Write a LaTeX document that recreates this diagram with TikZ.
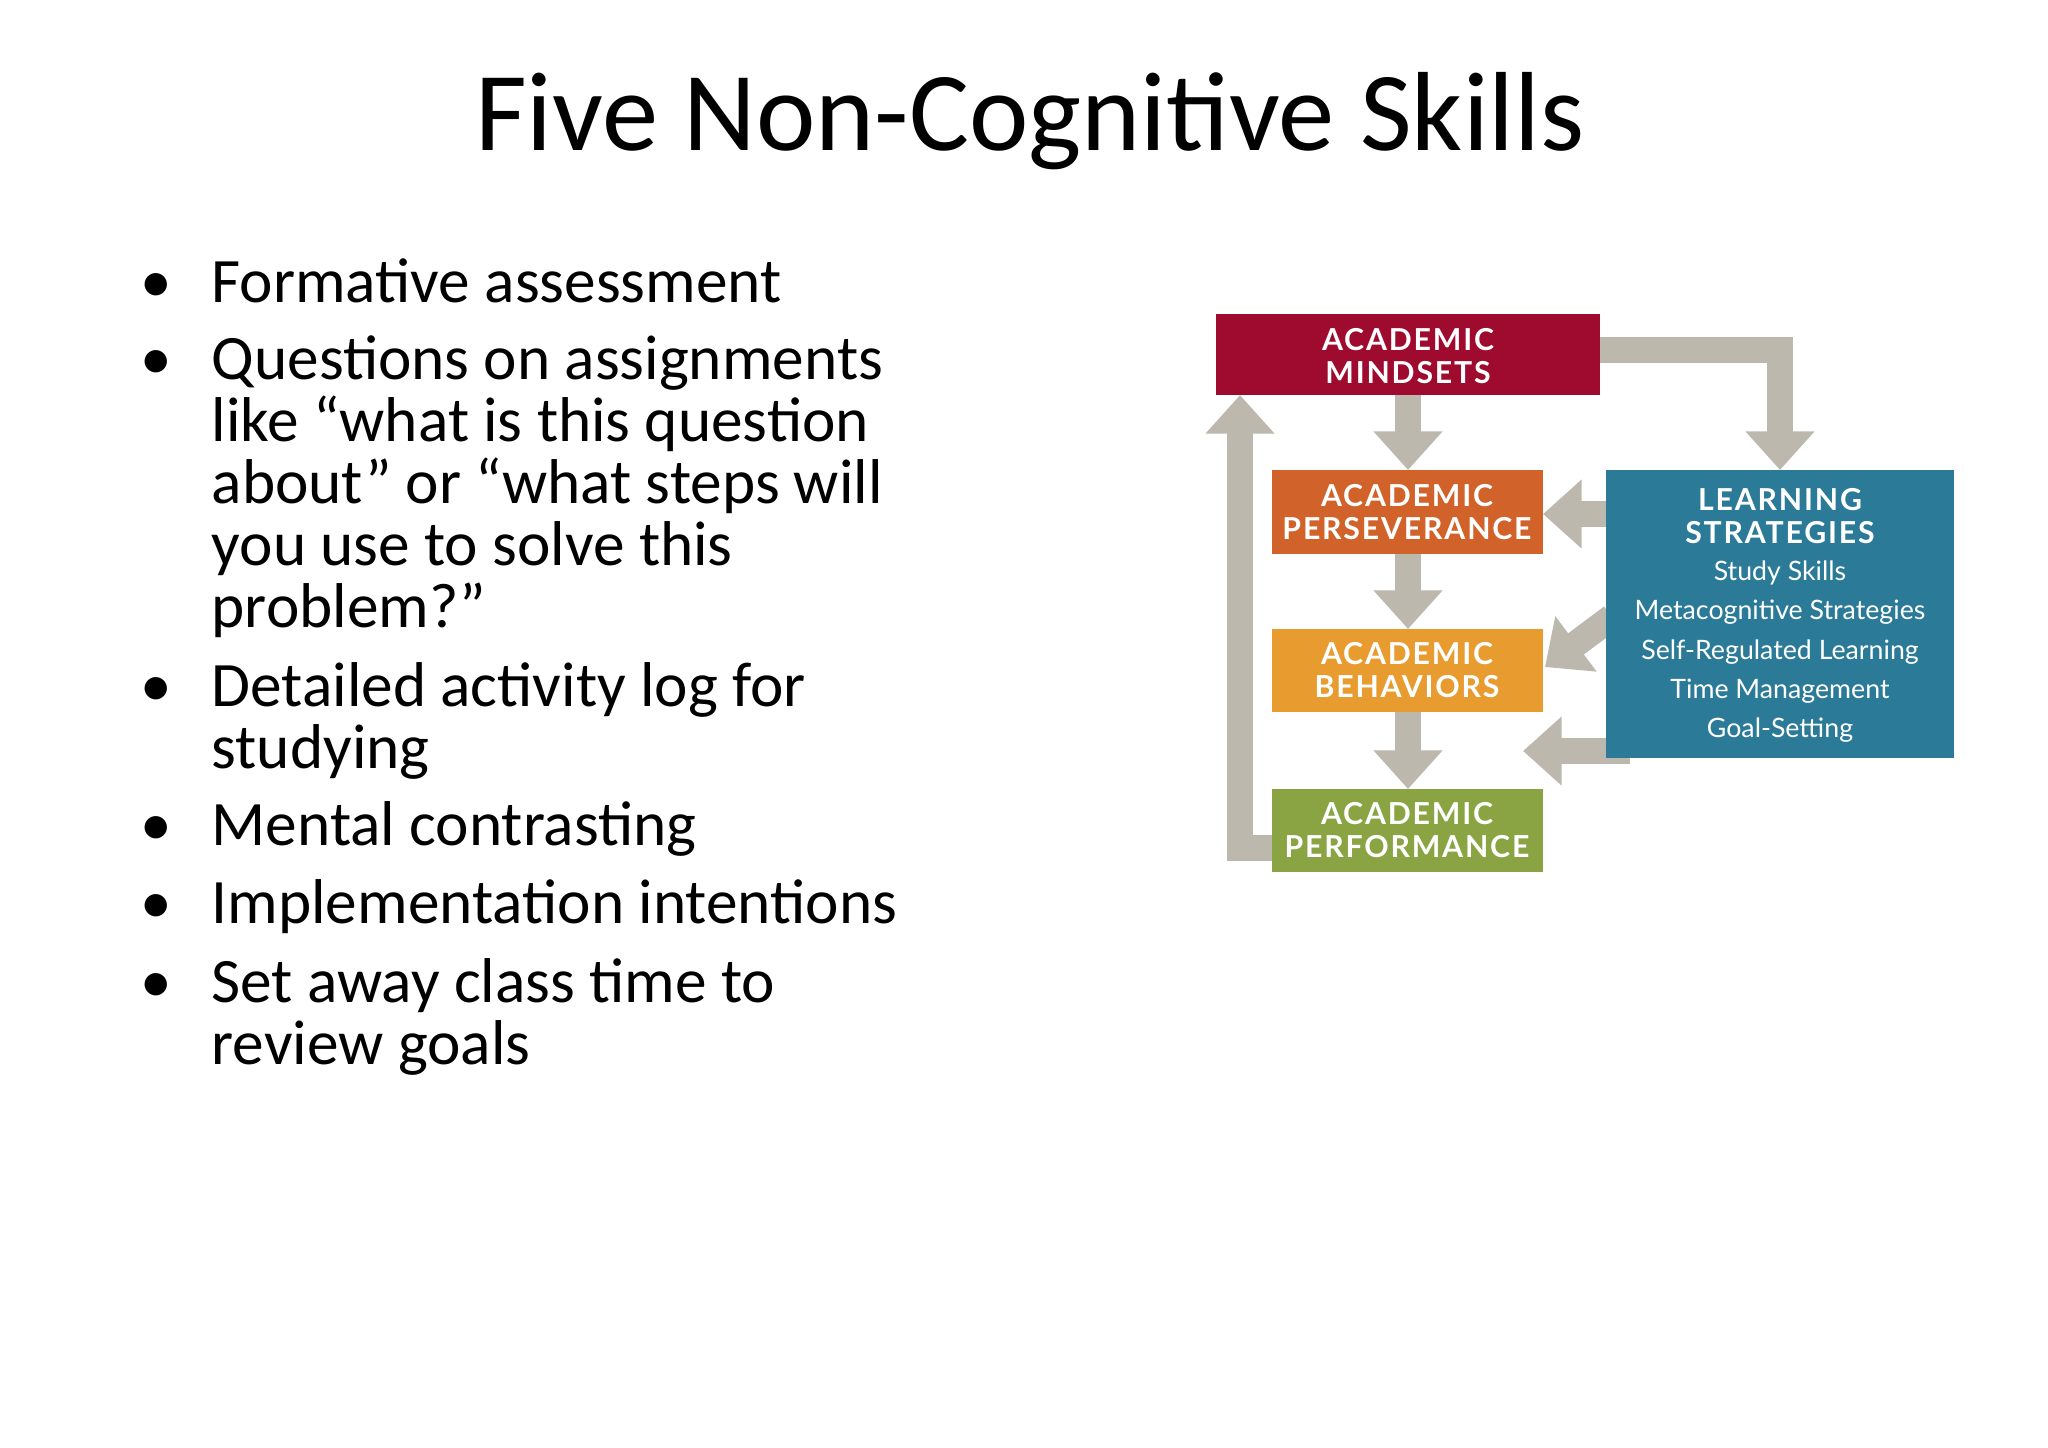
\documentclass[tikz,border=0pt]{standalone}
\usepackage{fontspec}
\setmainfont{Carlito}
\newfontfamily\boxfont[LetterSpace=6]{Lato}
\newfontfamily\itemfont{Lato}
\usetikzlibrary{arrows.meta}
\definecolor{cmind}{HTML}{9E0B2E}
\definecolor{cpers}{HTML}{D0622A}
\definecolor{cbeh}{HTML}{E89B2E}
\definecolor{cperf}{HTML}{8BA443}
\definecolor{clearn}{HTML}{2B7A98}
\definecolor{cgrey}{HTML}{BDB8AE}
\begin{document}
\begin{tikzpicture}[x=0.01cm,y=-0.01cm,
  boxst/.style={text=white,font=\boxfont\bfseries\fontsize{8.6}{9.4}\selectfont,align=center,inner sep=0pt},
  bul/.style={anchor=base west,inner sep=0pt,font=\fontsize{18}{18}\selectfont},
  garrow/.style={cgrey,line width=7.5pt,-{Triangle[width=19pt,length=11pt]}}]
\useasboundingbox (0,0) rectangle (2048,1447);
\node[font=\fontsize{32}{36}\selectfont] (title) at (1030,121) {Five Non-Cognitive Skills};
% bullets
\foreach \y/\n in {302/1,379/2,706/3,845/4,923/5,1002/6}{
  \node[bul] (d\n) at (140,\y) {•};
}
\node[bul] (l1) at (211,302) {Formative assessment};
\node[bul] (l2) at (211,379) {Questions on assignments};
\node[bul] (l3) at (211,441) {like “what is this question};
\node[bul] (l4) at (211,503) {about” or “what steps will};
\node[bul] (l5) at (211,565) {you use to solve this};
\node[bul] (l6) at (211,627) {problem?”};
\node[bul] (l7) at (211,706) {Detailed activity log for};
\node[bul] (l8) at (211,768) {studying};
\node[bul] (l9) at (211,845) {Mental contrasting};
\node[bul] (l10) at (211,923) {Implementation intentions};
\node[bul] (l11) at (211,1002) {Set away class time to};
\node[bul] (l12) at (211,1064) {review goals};
% arrows (under boxes)
\coordinate (a1) at (1600,350);
\coordinate (a2) at (1780,350);
\coordinate (a3) at (1780,470);
\draw[garrow] (a1) -- (a2) -- (a3);
\coordinate (b1) at (1272,848);
\coordinate (b2) at (1240,848);
\coordinate (b3) at (1240,395);
\draw[garrow] (b1) -- (b2) -- (b3);
\coordinate (m1) at (1408,395);
\coordinate (m2) at (1408,470);
\coordinate (m3) at (1408,554);
\coordinate (m4) at (1408,629);
\coordinate (m5) at (1408,712);
\coordinate (m6) at (1408,789);
\draw[garrow] (m1) -- (m2);
\draw[garrow] (m3) -- (m4);
\draw[garrow] (m5) -- (m6);
\coordinate (p1) at (1606,514);
\coordinate (p2) at (1543,514);
\draw[garrow] (p1) -- (p2);
\coordinate (q1) at (1612,617);
\coordinate (q2) at (1545,667);
\draw[garrow] (q1) -- (q2);
\coordinate (r1) at (1630,751);
\coordinate (r2) at (1523,751);
\draw[garrow] (r1) -- (r2);
% boxes
\fill[cmind] (1216,314) rectangle (1600,395);
\fill[cpers] (1272,470) rectangle (1543,554);
\fill[cbeh] (1272,629) rectangle (1543,712);
\fill[cperf] (1272,789) rectangle (1543,872);
\fill[clearn] (1606,470) rectangle (1954,758);
\node[boxst] (tmind) at (1408,356) {ACADEMIC\\MINDSETS};
\node[boxst] (tpers) at (1407,512) {ACADEMIC\\PERSEVERANCE};
\node[boxst] (tbeh) at (1407,670) {ACADEMIC\\BEHAVIORS};
\node[boxst] (tperf) at (1407,830) {ACADEMIC\\PERFORMANCE};
\node[boxst] (tlearn) at (1780,516) {LEARNING\\STRATEGIES};
\node[text=white,font=\itemfont\fontsize{7.6}{11.2}\selectfont,align=center,anchor=north,inner sep=0pt] (titems) at (1780,560) {Study Skills\\Metacognitive Strategies\\Self-Regulated Learning\\Time Management\\Goal-Setting};
\end{tikzpicture}
\end{document}
